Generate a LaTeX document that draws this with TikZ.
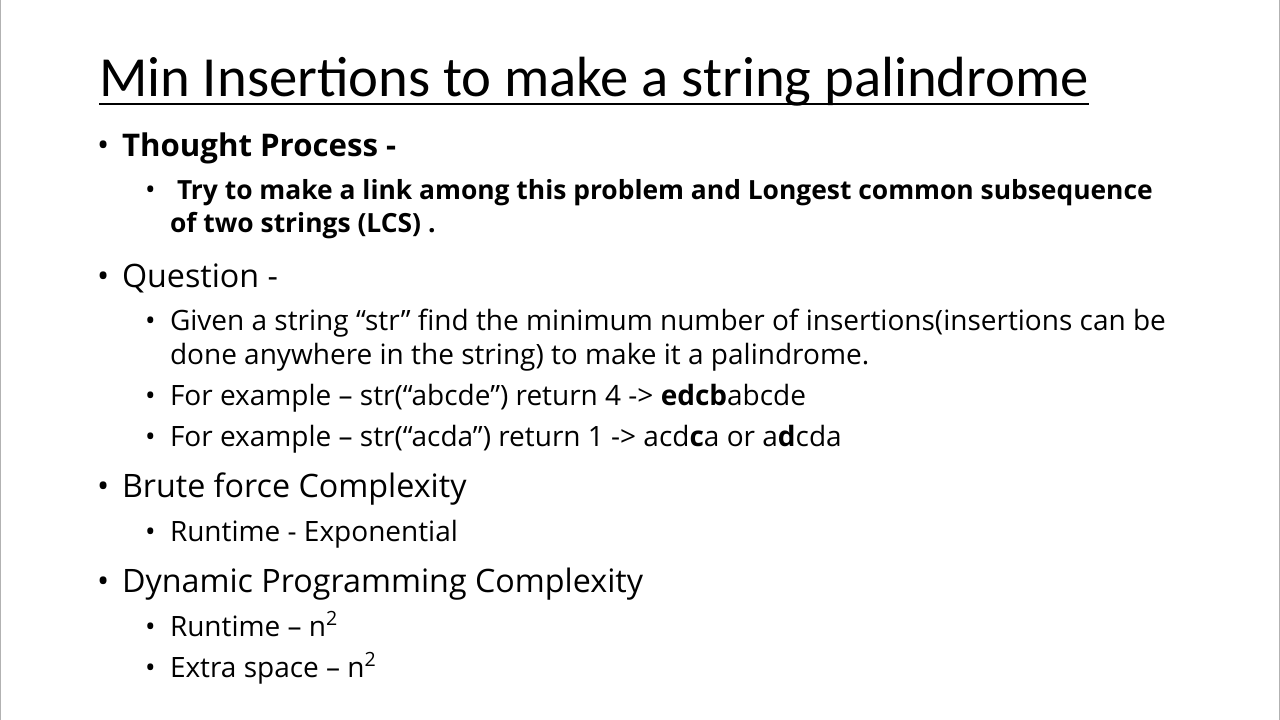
\documentclass[tikz,border=0pt]{standalone}
\usepackage{fontspec}
\setmainfont{Open Sans}
\newfontfamily\titlefont{Carlito}
\begin{document}
\begin{tikzpicture}[x=0.75pt,y=-0.75pt,
  t/.style={anchor=base west,inner sep=0pt,outer sep=0pt},
  lone/.style={t,font=\fontsize{24.2}{28}\selectfont},
  lonebold/.style={t,font=\fontsize{23.4}{28}\selectfont\bfseries},
  ltwo/.style={t,font=\fontsize{21}{25}\selectfont},
  ltwobold/.style={t,font=\fontsize{19.8}{24}\selectfont\bfseries}]
\useasboundingbox (0,0) rectangle (1280,720);
\fill[white] (0,0) rectangle (1280,720);
\draw[gray!60,line width=1pt] (0.5,0) -- (0.5,720) (1279.5,0) -- (1279.5,720);
\node[t,font=\titlefont\fontsize{42.5}{48}\selectfont] (title) at (99,97) {Min Insertions to make a string palindrome};
\draw[line width=1.5pt] ([yshift=-5.5pt]title.base west) -- ([yshift=-5.5pt]title.base east);
% level 1 bullets
\foreach \y/\n in {157/b1,287/b2,497/b3,592/b4}{\node[lone] (\n) at (97,\y) {•};}
\node[lonebold] (tp) at (122,157) {Thought Process -};
\node[lone] (q) at (122,287) {Question -};
\node[lone] (bf) at (122,497) {Brute force Complexity};
\node[lone] (dp) at (122,592) {Dynamic Programming Complexity};
% level 2 bullets
\foreach \y/\n in {200/c1,330/c2,405/c3,446/c4,541/c5,636/c6,677/c7}{\node[ltwo] (\n) at (145,\y) {•};}
\node[ltwobold] (try) at (177,200) {Try to make a link among this problem and Longest common subsequence};
\node[ltwobold] (try2) at (170,233) {of two strings (LCS) .};
\node[ltwo] (g1) at (170,330) {Given a string “str” find the minimum number of insertions(insertions can be};
\node[ltwo] (g2) at (170,364) {done anywhere in the string) to make it a palindrome.};
\node[ltwo] (e1) at (170,405) {For example – str(“abcde”) return 4 -> \textbf{edcb}abcde};
\node[ltwo] (e2) at (170,446) {For example – str(“acda”) return 1 -> acd\textbf{c}a or a\textbf{d}cda};
\node[ltwo] (r1) at (170,541) {Runtime - Exponential};
\node[ltwo] (r2) at (170,636) {Runtime – n\textsuperscript{2}};
\node[ltwo] (r3) at (170,677) {Extra space – n\textsuperscript{2}};
\end{tikzpicture}
\end{document}
